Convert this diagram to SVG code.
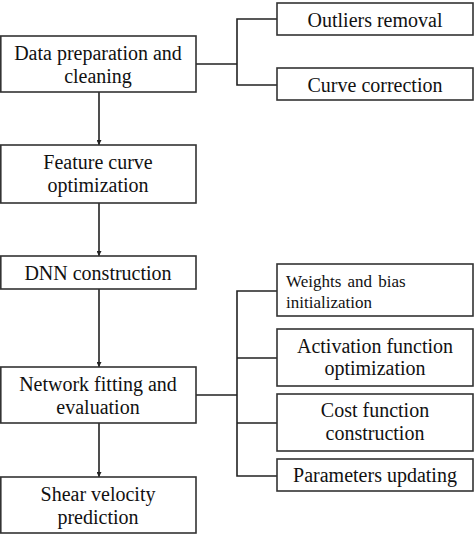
<svg xmlns="http://www.w3.org/2000/svg" width="474" height="542" viewBox="0 0 474 542">
<style>
.box{fill:#fff;stroke:#333;stroke-width:1.6}
.t{font-size:20px;fill:#111;text-anchor:middle}
.ts{font-size:17px;fill:#111;word-spacing:2px}
.c{fill:none;stroke:#222;stroke-width:1.6}
</style>
<defs>
<marker id="ah" viewBox="0 0 10 10" refX="10" refY="5" markerWidth="5" markerHeight="5" orient="auto" markerUnits="userSpaceOnUse">
<path d="M0,0 L10,5 L0,10 z" fill="#222"/>
</marker>
</defs>
<rect width="474" height="542" fill="#fff"/>
<g id="connectors">
<path class="c" d="M99,92 V145" marker-end="url(#ah)"/>
<path class="c" d="M99,203 V256" marker-end="url(#ah)"/>
<path class="c" d="M99,289 V367" marker-end="url(#ah)"/>
<path class="c" d="M99,423 V477" marker-end="url(#ah)"/>
<path class="c" d="M196,64 H237 M277,19 H237 V85 H277"/>
<path class="c" d="M196,395 H237 M277,291 H237 V476 H277 M237,358 H277 M237,423 H277"/>
</g>
<g id="nodes" font-family="Liberation Serif, DejaVu Serif, serif">
<g id="data-prep">
<rect class="box" x="0.8" y="36" width="195.2" height="56"/>
<text class="t" x="98" y="59.5">Data preparation and</text>
<text class="t" x="98" y="82.5">cleaning</text>
</g>
<g id="outliers">
<rect class="box" x="277" y="3" width="196" height="32"/>
<text class="t" x="375" y="26.5">Outliers removal</text>
</g>
<g id="curve-correction">
<rect class="box" x="277" y="68" width="196" height="32"/>
<text class="t" x="375" y="91.5">Curve correction</text>
</g>
<g id="feature">
<rect class="box" x="0.8" y="145" width="195.2" height="58"/>
<text class="t" x="98" y="169">Feature curve</text>
<text class="t" x="98" y="192">optimization</text>
</g>
<g id="dnn">
<rect class="box" x="0.8" y="256" width="195.2" height="33"/>
<text class="t" x="98" y="279.5">DNN construction</text>
</g>
<g id="network">
<rect class="box" x="0.8" y="367" width="195.2" height="56"/>
<text class="t" x="98" y="391">Network fitting and</text>
<text class="t" x="98" y="414">evaluation</text>
</g>
<g id="shear">
<rect class="box" x="0.8" y="477" width="195.2" height="56"/>
<text class="t" x="98" y="501">Shear velocity</text>
<text class="t" x="98" y="524">prediction</text>
</g>
<g id="weights">
<rect class="box" x="277" y="264" width="196" height="52"/>
<text class="ts" x="286" y="287">Weights and bias</text>
<text class="ts" x="286" y="308">initialization</text>
</g>
<g id="activation">
<rect class="box" x="277" y="329" width="196" height="57"/>
<text class="t" x="375" y="353">Activation function</text>
<text class="t" x="375" y="375">optimization</text>
</g>
<g id="cost">
<rect class="box" x="277" y="394" width="196" height="57"/>
<text class="t" x="375" y="417">Cost function</text>
<text class="t" x="375" y="440">construction</text>
</g>
<g id="parameters">
<rect class="box" x="277" y="459" width="196" height="32"/>
<text class="t" x="375" y="482">Parameters updating</text>
</g>
</g>
</svg>
